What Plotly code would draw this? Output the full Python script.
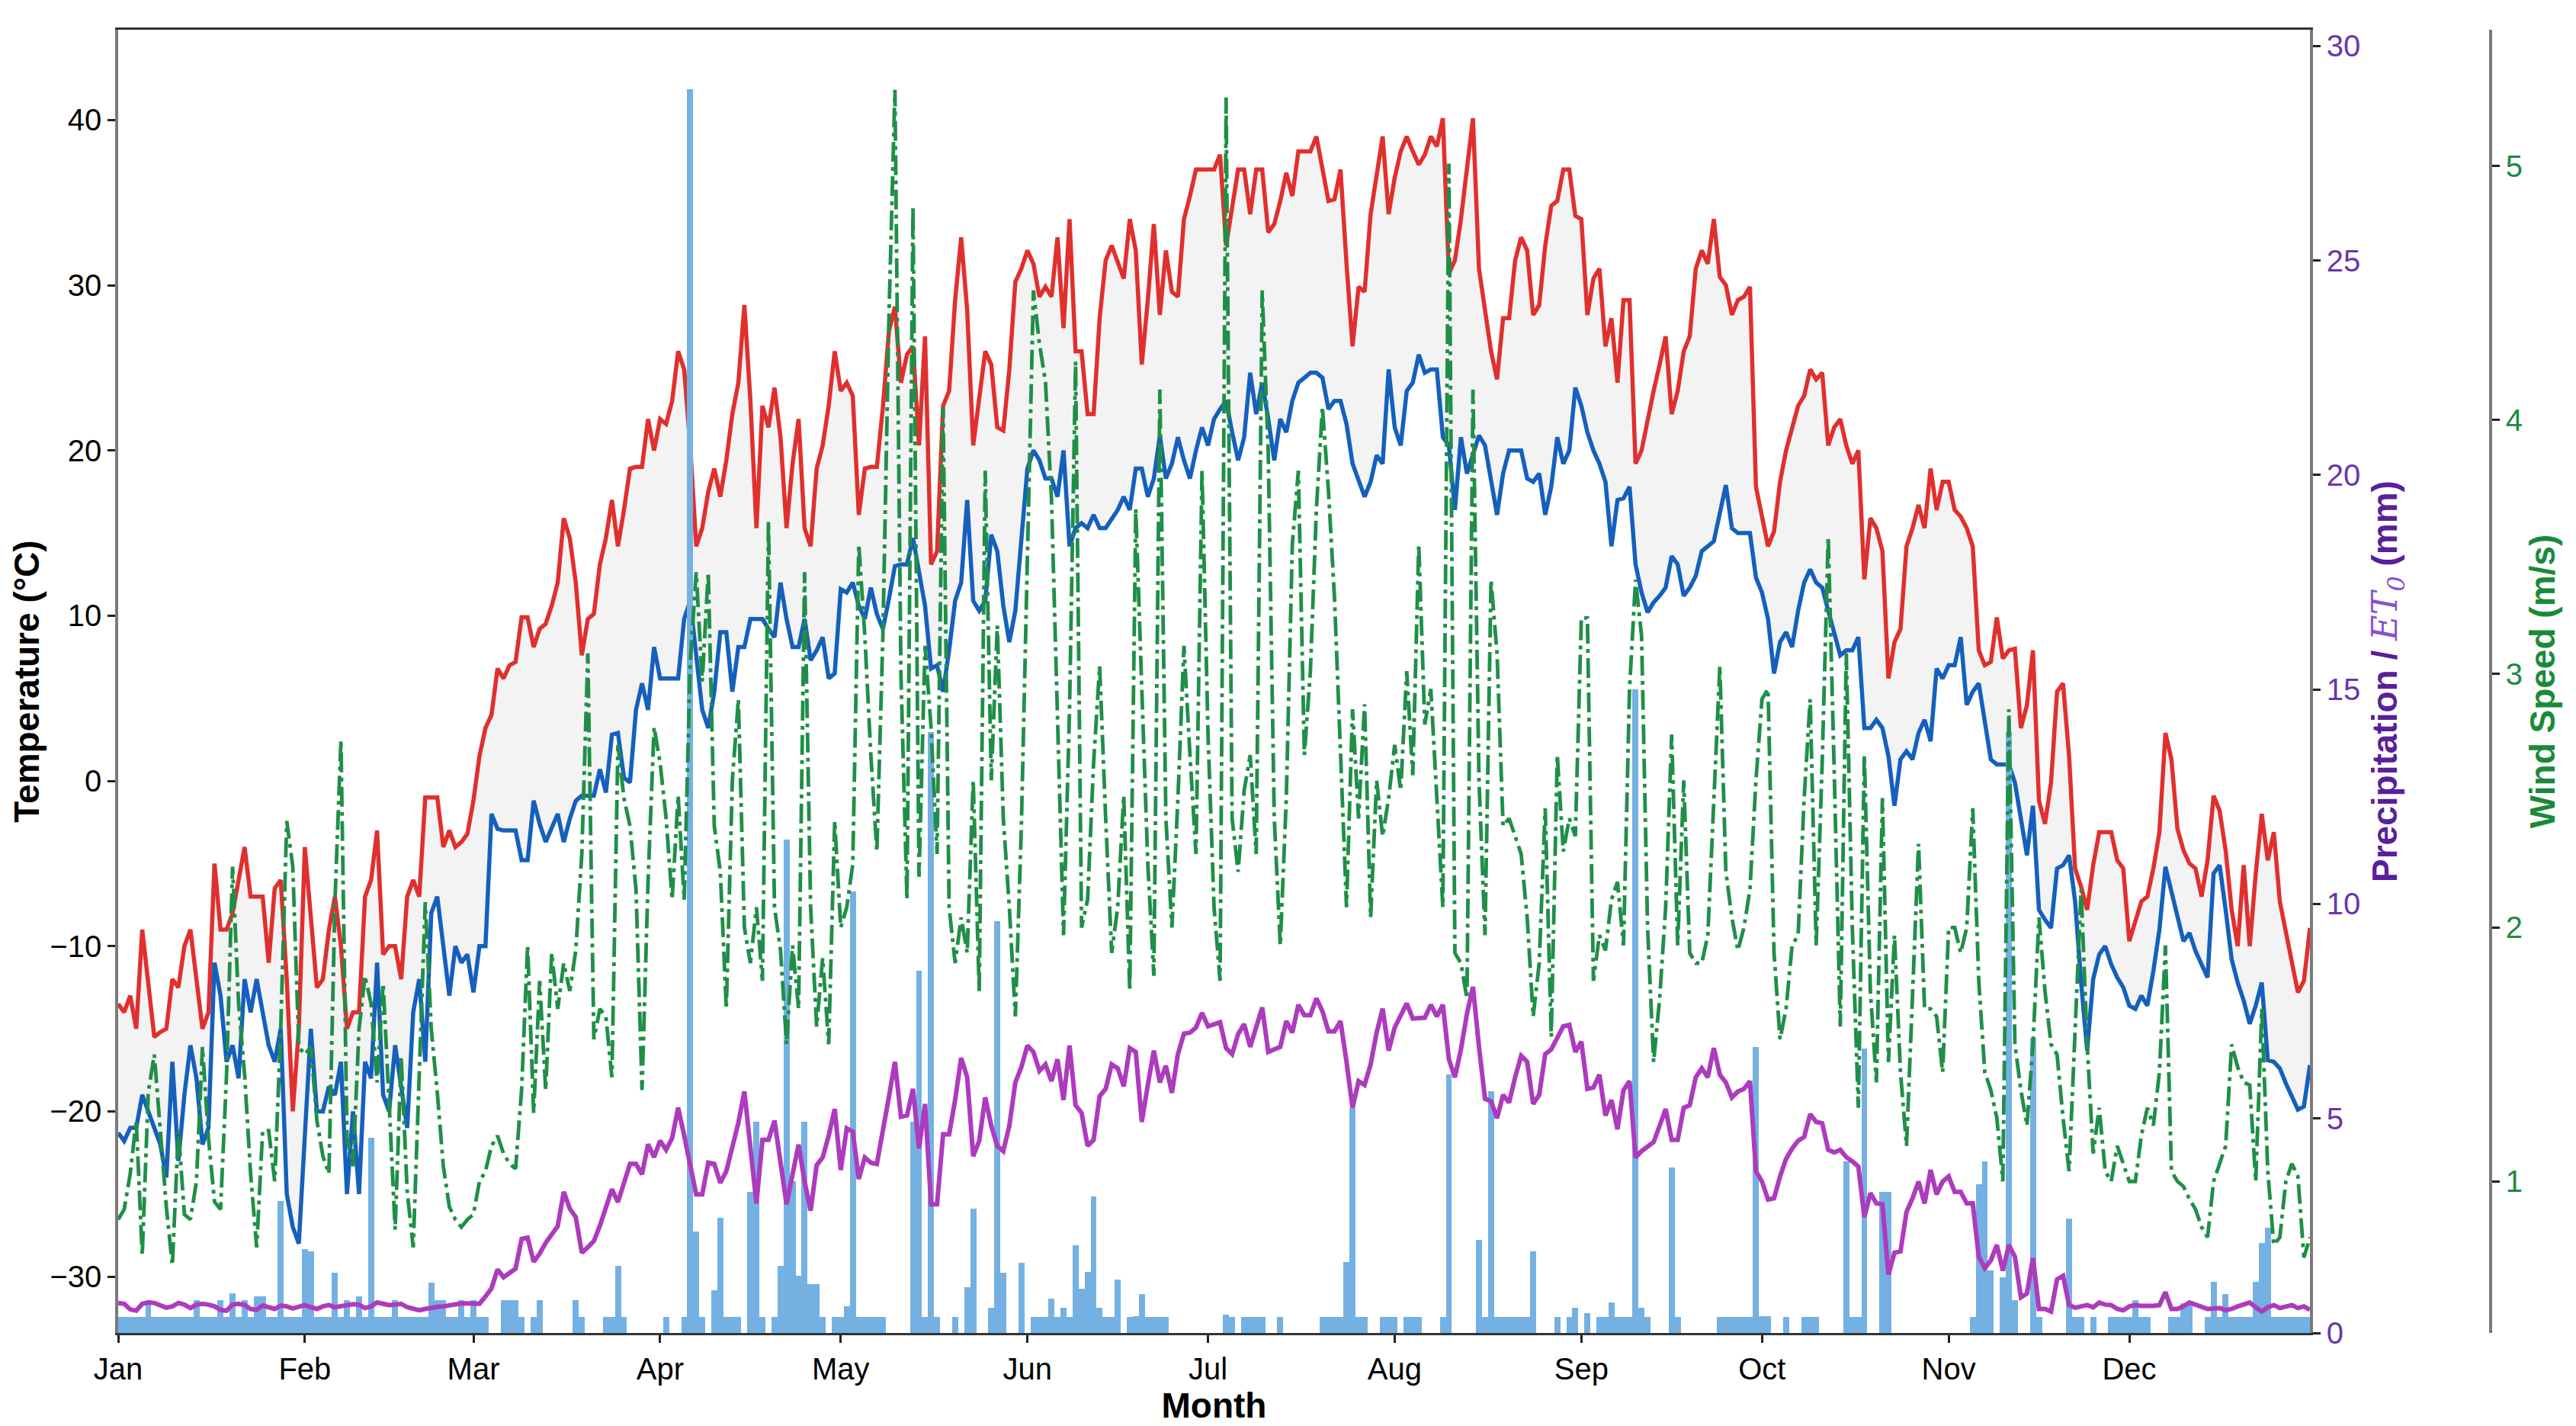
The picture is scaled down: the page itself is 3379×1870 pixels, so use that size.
import plotly.graph_objects as go
import pandas as pd

months = ["Jan", "Feb", "Mar", "Apr", "May", "Jun", "Jul", "Aug", "Sep", "Oct", "Nov", "Dec"]
month_starts = ["2023-01-01", "2023-02-01", "2023-03-01", "2023-04-01", "2023-05-01", "2023-06-01",
                "2023-07-01", "2023-08-01", "2023-09-01", "2023-10-01", "2023-11-01", "2023-12-01"]

# Daily maximum temperature (°C)
tmax = [
    # Jan
    -13.5, -14, -13, -15, -9, -12.5, -15.5, -15.2, -15, -12, -12.5, -10, -9, -12, -15, -14, -5, -9, -9, -8,
    -6, -4, -7, -7, -7, -11, -6.5, -6, -12, -20, -15,
    # Feb
    -4, -8, -12.5, -12, -9, -7, -10, -15, -14, -14, -7, -6, -3, -10.5, -10, -10, -12, -7, -6, -7,
    -1, -1, -1, -4, -3, -4, -3.7, -3.2,
    # Mar
    -1.2, 1.5, 3.2, 4.0, 6.8, 6.2, 7.0, 7.2, 9.9, 9.9, 8.1, 9.2, 9.5, 10.6, 12.0, 15.9, 14.7, 12.0, 7.6, 9.8,
    10.1, 13.1, 14.7, 17.0, 14.2, 16.4, 18.9, 19.0, 19.0, 21.9, 20.0,
    # Apr
    21.9, 21.6, 23.0, 26.0, 24.9, 20.3, 14.2, 15.3, 17.5, 18.9, 17.2, 19.4, 22.2, 24.1, 28.8, 23.0, 15.3, 22.7,
    21.4, 23.8, 20.8, 15.3, 19.2, 21.9, 15.3, 14.2, 18.9, 20.3, 22.7, 26.0,
    # May
    23.6, 24.1, 23.3, 16.1, 18.9, 19.0, 19.0, 22.6, 27.2, 28.7, 24.1, 25.8, 26.3, 20.3, 26.9, 13.1, 13.9, 22.7,
    23.6, 29.1, 32.9, 28.5, 20.3, 23.0, 26.0, 25.2, 21.4, 21.2, 24.9, 30.2, 31.0,
    # Jun
    32.1, 31.3, 29.3, 29.9, 29.3, 32.9, 27.4, 34.0, 26.0, 26.0, 22.2, 22.2, 28.0, 31.5, 32.4, 31.3, 30.4, 34.0,
    32.1, 25.2, 29.1, 33.7, 28.2, 32.1, 29.6, 29.3, 34.0, 35.4, 37.0, 37.0,
    # Jul
    37.0, 37.0, 37.9, 32.4, 34.7, 37.0, 37.0, 34.3, 37.0, 37.0, 33.2, 33.7, 35.1, 36.8, 35.4, 38.1, 38.1, 38.1,
    39.0, 37.0, 35.1, 35.2, 37.0, 31.3, 26.3, 29.9, 29.6, 34.3, 36.5, 39.0, 34.3,
    # Aug
    36.5, 38.1, 39.0, 38.1, 37.3, 37.9, 39.0, 38.4, 40.1, 30.7, 31.5, 34.0, 37.0, 40.1, 31.0, 28.5, 26.0, 24.3,
    28.0, 28.0, 31.5, 32.9, 32.1, 28.2, 28.8, 32.4, 34.8, 35.1, 37.0, 37.0, 34.2,
    # Sep
    34.0, 28.2, 30.4, 31.0, 26.3, 28.0, 24.1, 29.1, 29.1, 19.2, 20.0, 21.9, 23.6, 25.2, 26.9, 22.2, 23.6, 26.0,
    26.9, 31.0, 32.1, 31.3, 34.0, 30.5, 30.0, 28.2, 29.1, 29.3, 29.9, 17.8,
    # Oct
    15.9, 14.2, 15.1, 18.1, 20.0, 21.4, 22.7, 23.3, 24.9, 24.3, 24.7, 20.3, 21.4, 21.9, 20.3, 19.2, 20.0, 12.2,
    15.9, 15.3, 13.9, 6.2, 8.4, 9.2, 14.2, 15.3, 16.7, 15.3, 18.9, 16.4, 18.1,
    # Nov
    18.1, 16.4, 16.0, 15.3, 14.2, 7.9, 7.0, 7.2, 9.9, 7.4, 7.9, 8.0, 3.2, 4.6, 7.9, -1.2, -2.6, -0.1, 5.4, 5.9,
    1.5, -5.3, -6.4, -7.8, -5.1, -3.1, -3.1, -3.1, -4.8, -5.3,
    # Dec
    -9.7, -8.6, -7.3, -7.0, -5.3, -3.1, 2.9, 1.3, -2.9, -4.2, -5.0, -5.3, -7.0, -4.8, -0.9, -1.8, -4.2, -7.8,
    -10.0, -5.1, -10.0, -5.6, -2.0, -4.8, -3.1, -7.3, -9.2, -10.8, -12.8, -12.1, -8.9,
]

# Daily minimum temperature (°C)
tmin = [
    # Jan
    -21.3, -21.8, -21, -21, -19, -20, -21, -22, -24, -17, -23, -19, -16, -18, -22, -21, -11, -13, -17, -16,
    -18, -12, -14, -12, -14, -16, -17, -15, -25, -27, -28,
    # Feb
    -21, -15, -20, -20, -18.5, -19, -17, -25, -20, -25, -17, -18, -11, -19, -20, -16, -18.5, -21, -14, -12,
    -17, -8, -7, -10, -13, -10, -11, -10.5,
    # Mar
    -12.8, -10, -10, -2.0, -2.9, -3.0, -3.0, -3.0, -4.8, -4.8, -1.2, -2.6, -3.7, -2.9, -2.0, -3.7, -2.3, -1.2,
    -0.9, -0.9, -0.9, 0.7, -0.7, 2.8, 2.9, 0.2, -0.1, 4.3, 5.9, 4.3, 8.1,
    # Apr
    6.2, 6.2, 6.2, 6.2, 9.8, 10.9, 7.6, 4.3, 3.2, 5.4, 9.0, 9.0, 5.4, 8.1, 8.1, 9.8, 9.8, 9.8, 9.2, 8.7, 12.0,
    9.8, 8.1, 8.1, 9.8, 7.3, 7.9, 8.7, 6.2, 6.5,
    # May
    11.6, 11.4, 12.0, 10.6, 9.8, 11.7, 10.1, 9.2, 11.0, 13.0, 13.1, 13.1, 14.7, 12.8, 10.6, 6.8, 7.0, 5.4, 7.9,
    10.9, 12.0, 17.0, 10.9, 10.3, 10.9, 14.9, 13.9, 10.6, 8.4, 10.3, 14.7,
    # Jun
    18.9, 20.0, 19.4, 18.3, 18.3, 17.2, 20.0, 14.2, 15.3, 15.6, 15.3, 16.1, 15.3, 15.3, 15.8, 16.4, 17.2, 16.4,
    18.9, 18.9, 17.2, 18.3, 20.9, 18.3, 19.2, 20.8, 19.4, 18.3, 20.0, 21.4,
    # Jul
    20.3, 21.9, 22.5, 23.0, 21.1, 19.4, 20.8, 24.7, 22.2, 24.1, 21.9, 19.4, 21.9, 21.1, 23.0, 24.1, 24.4, 24.7,
    24.7, 24.4, 22.5, 23.0, 23.0, 21.6, 19.2, 18.2, 17.2, 18.1, 19.7, 19.2, 24.9,
    # Aug
    21.4, 20.3, 23.6, 24.1, 25.8, 24.7, 24.9, 24.9, 20.8, 20.3, 16.4, 20.8, 18.6, 19.7, 20.9, 20.3, 18.3, 16.1,
    18.6, 20.0, 20.0, 20.0, 18.3, 18.1, 18.6, 16.1, 17.8, 20.8, 19.2, 20.0, 23.8,
    # Sep
    22.7, 21.1, 20.0, 19.2, 18.1, 14.2, 17.0, 17.1, 17.8, 13.1, 11.4, 10.2, 10.8, 11.2, 11.7, 13.6, 13.1, 11.2,
    11.7, 12.4, 13.9, 14.2, 14.5, 16.2, 17.9, 15.3, 15.0, 15.0, 15.0, 12.3,
    # Oct
    11.4, 9.8, 6.5, 8.4, 9.0, 8.1, 10.3, 12.0, 12.8, 12.0, 11.7, 10.3, 9.0, 7.6, 7.9, 7.9, 8.7, 3.2, 3.2, 3.7,
    3.2, 1.5, -1.5, 1.3, 1.8, 1.3, 2.9, 3.7, 2.4, 6.8, 6.2,
    # Nov
    7.0, 7.0, 8.7, 4.6, 5.4, 5.9, 3.7, 1.3, 1.0, 1.0, 1.0, -0.1, -2.3, -4.5, -1.5, -7.8, -8.4, -8.9, -5.3, -5.1,
    -4.5, -7.3, -12.2, -16.3, -12.0, -10.5, -10.0, -11.1, -11.9, -12.5,
    # Dec
    -13.6, -13.8, -13.0, -13.6, -11.5, -9.0, -5.2, -6.7, -8.4, -9.7, -9.2, -10.3, -11.1, -11.9, -5.6, -5.1, -7.8,
    -10.8, -12.2, -13.3, -14.7, -13.6, -12.2, -16.9, -17.0, -17.4, -18.3, -19.1, -19.9, -19.7, -17.2,
]

# Daily precipitation (mm)
precip = [
    # Jan
    0.37, 0.37, 0.37, 0.37, 0.37, 0.77, 0.37, 0.37, 0.37, 0.37, 0.37, 0.37, 0.37, 0.77, 0.37, 0.37, 0.37, 0.77,
    0.37, 0.92, 0.37, 0.77, 0.37, 0.86, 0.86, 0.37, 0.37, 3.08, 0.37, 0.37, 0.37,
    # Feb
    1.96, 1.9, 0.37, 0.37, 0.37, 1.41, 0.37, 0.77, 0.37, 0.86, 0.37, 4.55, 0.37, 0.37, 0.37, 0.77, 0.37, 0.37,
    0.37, 0.37, 0.37, 1.17, 0.77, 0.77, 0.37, 0.37, 0.77, 0.37,
    # Mar
    0.77, 0.37, 0.37, 0, 0, 0.77, 0.77, 0.77, 0.37, 0, 0.37, 0.77, 0, 0, 0, 0, 0, 0.77, 0.37, 0, 0, 0, 0.37,
    0.37, 1.56, 0.37, 0, 0, 0, 0, 0,
    # Apr
    0, 0.37, 0, 0, 0.37, 29.0, 2.36, 0.37, 0, 0.99, 2.69, 0.37, 0.37, 0.37, 0, 3.29, 4.93, 0.37, 0, 0.37, 1.56,
    11.5, 3.53, 1.33, 4.93, 1.13, 1.13, 0.37, 0, 0.37,
    # May
    0.37, 0.62, 10.3, 0.37, 0.37, 0.37, 0.37, 0.37, 0, 0, 0, 0, 4.93, 8.44, 0.37, 14.0, 0.37, 0, 0, 0.37, 0,
    1.07, 2.89, 0, 0, 0.58, 9.6, 1.41, 0, 0, 1.64,
    # Jun
    0, 0.37, 0.37, 0.37, 0.8, 0.37, 0.58, 0.37, 2.05, 1.04, 1.42, 3.18, 0.58, 0.37, 0.37, 1.25, 0, 0.37, 0.4,
    0.91, 0.37, 0.37, 0.37, 0.37, 0, 0, 0, 0, 0, 0,
    # Jul
    0, 0, 0, 0.42, 0.37, 0, 0.37, 0.37, 0.37, 0.37, 0, 0, 0.37, 0, 0, 0, 0, 0, 0, 0.37, 0.37, 0.37, 0.37, 1.66,
    5.25, 0.37, 0.37, 0, 0, 0.37, 0.37,
    # Aug
    0.37, 0, 0.37, 0.37, 0.37, 0, 0, 0, 0.37, 6.02, 0, 0, 0, 0, 2.16, 0.37, 5.63, 0.37, 0.37, 0.37, 0.37, 0.37,
    0.37, 1.9, 0, 0, 0, 0.37, 0, 0.37, 0.58,
    # Sep
    0, 0.46, 0, 0.37, 0.37, 0.71, 0.37, 0.37, 0.37, 15.0, 0.59, 0.37, 0, 0, 0, 3.85, 0.37, 0, 0, 0, 0, 0, 0,
    0.37, 0.37, 0.37, 0.37, 0.37, 0.37, 6.67,
    # Oct
    0.4, 0.4, 0, 0, 0.37, 0, 0, 0.37, 0.37, 0.37, 0, 0, 0, 0, 4.0, 0.37, 0.37, 6.63, 0, 0, 3.29, 3.29, 0, 0, 0,
    0, 0, 0, 0, 0, 0,
    # Nov
    0, 0, 0, 0, 0.37, 3.46, 4.0, 1.45, 0, 1.3, 14.0, 0.77, 0, 0, 6.88, 0.37, 0, 0, 0, 0, 2.67, 0.37, 0.37, 0,
    0.37, 0, 0, 0.37, 0.37, 0.37,
    # Dec
    0.37, 0.77, 0.37, 0.37, 0, 0, 0, 0.37, 0.37, 0.7, 0.7, 0, 0, 0.37, 1.2, 0.37, 0.9, 0.37, 0.37, 0.37, 0.37,
    1.2, 2.1, 2.45, 0.37, 0.37, 0.37, 0.37, 0.37, 0.37, 0.37,
]

# Daily reference evapotranspiration ET0 (mm)
et0 = [
    # Jan
    0.70, 0.68, 0.55, 0.52, 0.68, 0.71, 0.70, 0.64, 0.59, 0.62, 0.70, 0.66, 0.58, 0.66, 0.68, 0.66, 0.62, 0.54,
    0.52, 0.66, 0.68, 0.65, 0.56, 0.54, 0.64, 0.60, 0.56, 0.64, 0.62, 0.57, 0.60,
    # Feb
    0.65, 0.60, 0.56, 0.62, 0.65, 0.60, 0.62, 0.65, 0.67, 0.66, 0.58, 0.62, 0.71, 0.68, 0.65, 0.66, 0.68, 0.60,
    0.56, 0.53, 0.56, 0.59, 0.61, 0.62, 0.65, 0.67, 0.69, 0.69,
    # Mar
    0.69, 0.68, 0.85, 1.04, 1.48, 1.3, 1.4, 1.5, 2.19, 2.22, 1.66, 1.85, 2.1, 2.31, 2.49, 3.29, 2.9, 2.7, 1.87,
    2.0, 2.14, 2.5, 2.9, 3.35, 3.05, 3.5, 3.94, 3.94, 3.7, 4.4, 4.1,
    # Apr
    4.48, 4.27, 4.54, 5.25, 4.6, 3.9, 3.23, 3.23, 3.97, 3.94, 3.5, 3.77, 4.3, 4.9, 5.63, 4.36, 3.02, 4.5, 4.5,
    4.95, 3.88, 3.0, 3.7, 4.39, 3.53, 2.85, 3.91, 4.09, 4.6, 5.22,
    # May
    3.8, 4.77, 4.69, 3.59, 4.09, 3.97, 3.94, 4.8, 5.5, 6.32, 5.04, 5.07, 5.69, 4.3, 5.34, 3.0, 3.0, 4.63, 4.63,
    5.43, 6.41, 5.96, 4.12, 4.48, 5.49, 4.83, 4.36, 4.24, 4.83, 5.84, 6.2,
    # Jun
    6.7, 6.55, 6.11, 6.26, 5.87, 6.38, 5.43, 6.7, 5.31, 5.13, 4.36, 4.5, 5.52, 5.69, 6.26, 6.17, 5.75, 6.64,
    6.55, 4.92, 5.78, 6.58, 5.84, 6.23, 5.6, 6.5, 6.98, 7.0, 7.12, 7.46,
    # Jul
    7.15, 7.2, 7.24, 6.64, 6.5, 6.97, 7.2, 6.67, 7.15, 7.59, 6.55, 6.6, 6.67, 7.27, 7.0, 7.65, 7.41, 7.41, 7.8,
    7.5, 7.03, 7.03, 7.27, 6.32, 5.25, 5.87, 5.78, 6.26, 7.0, 7.56, 6.58,
    # Aug
    7.12, 7.4, 7.68, 7.33, 7.34, 7.35, 7.65, 7.38, 7.65, 6.38, 5.96, 6.61, 7.44, 8.07, 6.67, 5.46, 5.4, 5.01,
    5.55, 5.37, 5.96, 6.46, 6.32, 5.34, 5.55, 6.5, 6.61, 6.9, 7.15, 7.18, 6.55,
    # Sep
    6.79, 5.69, 5.72, 6.02, 5.07, 5.43, 4.75, 5.66, 5.87, 4.09, 4.24, 4.35, 4.45, 4.83, 5.22, 4.5, 4.5, 5.25,
    5.31, 5.96, 6.17, 5.96, 6.64, 6.02, 5.84, 5.49, 5.63, 5.69, 5.87, 3.77,
    # Oct
    3.53, 3.11, 3.14, 3.65, 4.06, 4.3, 4.48, 4.57, 5.1, 4.92, 4.89, 4.27, 4.21, 4.27, 4.1, 4.0, 3.88, 2.7, 3.26,
    3.02, 3.0, 1.36, 1.87, 1.9, 2.82, 3.14, 3.53, 3.02, 3.8, 3.23, 3.53,
    # Nov
    3.65, 3.29, 3.29, 3.02, 3.02, 1.78, 1.51, 1.69, 2.05, 1.45, 2.05, 1.78, 0.83, 0.92, 1.75, 0.56, 0.56, 0.5,
    1.25, 1.33, 0.65, 0.59, 0.62, 0.65, 0.6, 0.71, 0.66, 0.65, 0.56, 0.53,
    # Dec
    0.62, 0.65, 0.63, 0.62, 0.63, 0.65, 0.95, 0.56, 0.56, 0.62, 0.71, 0.66, 0.6, 0.56, 0.57, 0.58, 0.53, 0.56,
    0.62, 0.66, 0.71, 0.6, 0.5, 0.6, 0.65, 0.58, 0.62, 0.65, 0.58, 0.62, 0.54,
]

# Daily mean wind speed (m/s)
wind = [
    # Jan
    0.85, 0.89, 1.03, 1.24, 0.71, 1.35, 1.5, 1.2, 0.9, 0.67, 1.2, 0.87, 0.85, 1.0, 1.53, 1.17, 0.92, 0.89, 1.42,
    2.24, 1.7, 1.42, 1.03, 0.74, 1.2, 1.2, 1.0, 1.6, 2.42, 2.24, 1.53,
    # Feb
    1.5, 1.53, 1.24, 1.1, 1.03, 2.1, 2.74, 1.17, 1.06, 1.6, 1.81, 1.7, 1.39, 1.78, 1.31, 0.81, 1.49, 0.96, 0.74,
    1.42, 2.1, 1.6, 1.35, 1.06, 0.9, 0.85, 0.82, 0.85,
    # Mar
    0.87, 1.0, 1.04, 1.14, 1.18, 1.11, 1.07, 1.05, 1.36, 1.93, 1.27, 1.79, 1.36, 1.9, 1.68, 1.86, 1.75, 1.91,
    2.29, 3.08, 1.56, 1.68, 1.65, 1.41, 2.72, 2.51, 2.4, 2.15, 1.36, 2.18, 2.79,
    # Apr
    2.65, 2.43, 2.11, 2.52, 2.11, 3.04, 3.4, 2.97, 3.4, 2.4, 2.22, 1.68, 2.58, 2.9, 2.0, 1.86, 2.08, 1.79, 3.6,
    2.08, 1.91, 1.54, 1.93, 1.68, 3.4, 2.08, 1.61, 1.88, 1.54, 2.42,
    # May
    2.0, 2.08, 2.25, 3.51, 3.15, 2.68, 2.3, 3.15, 4.4, 5.3, 3.0, 2.11, 4.84, 2.2, 3.11, 2.79, 2.29, 4.05, 2.08,
    1.86, 2.04, 1.9, 2.58, 1.75, 3.8, 2.58, 3.19, 2.43, 2.08, 1.65, 2.4,
    # Jun
    3.51, 4.51, 4.3, 4.15, 3.69, 2.79, 1.97, 2.86, 4.23, 2.0, 2.11, 2.65, 3.03, 2.43, 1.9, 2.08, 2.52, 1.75,
    3.65, 2.94, 2.25, 1.81, 4.12, 2.43, 2.0, 2.51, 3.11, 2.68, 2.29, 3.8,
    # Jul
    2.76, 2.08, 1.79, 5.27, 2.43, 2.22, 2.54, 2.68, 2.29, 4.51, 3.87, 2.43, 1.93, 2.51, 3.51, 3.8, 2.68, 3.01,
    3.65, 4.05, 3.72, 3.3, 2.7, 2.08, 2.86, 2.43, 2.88, 2.04, 2.58, 2.36, 2.51,
    # Aug
    2.72, 2.54, 3.01, 2.6, 3.51, 2.8, 2.94, 2.51, 2.08, 5.01, 1.9, 1.86, 1.72, 4.12, 2.58, 1.97, 3.37, 3.08,
    2.4, 2.43, 2.36, 2.29, 2.04, 1.65, 1.86, 2.47, 1.57, 2.68, 2.3, 2.43, 2.36,
    # Sep
    3.22, 3.22, 1.79, 1.97, 1.91, 2.11, 2.18, 1.93, 2.94, 3.37, 3.15, 2.0, 1.47, 1.72, 2.08, 2.76, 1.93, 2.58,
    1.9, 1.86, 1.86, 1.97, 2.54, 3.03, 2.22, 2.04, 1.91, 2.0, 2.15, 2.58,
    # Oct
    2.9, 2.94, 1.9, 1.56, 1.68, 1.93, 1.97, 2.51, 2.9, 1.93, 2.65, 3.54, 2.61, 1.61, 3.08, 2.0, 1.29, 2.68, 1.75,
    1.39, 2.51, 1.47, 1.97, 1.43, 1.14, 1.72, 2.33, 1.68, 1.68, 1.65, 1.43,
    # Nov
    2.0, 2.0, 1.9, 2.0, 2.47, 1.79, 1.43, 1.36, 1.25, 1.0, 2.86, 1.54, 1.36, 1.22, 1.54, 2.04, 1.75, 1.54, 1.5,
    1.25, 1.04, 1.61, 2.15, 1.54, 1.11, 1.29, 1.04, 1.0, 1.14, 1.07,
    # Dec
    1.0, 1.0, 1.18, 1.29, 1.22, 1.43, 1.93, 1.04, 1.0, 0.98, 0.93, 0.89, 0.82, 0.78, 1.0, 1.07, 1.14, 1.54, 1.45,
    1.39, 1.38, 1.0, 1.68, 1.04, 0.75, 0.78, 1.0, 1.07, 1.02, 0.7, 0.78,
]

dates = pd.date_range("2023-01-01", periods=len(tmax), freq="D")

RED = "#e0302e"
BLUE = "#1560bd"
PURPLE = "#ad3bbd"
GREEN = "#1f8f47"
BARC = "#74b1e2"
FONT = "Liberation Sans, Arial, Helvetica, sans-serif"

fig = go.Figure()
# shaded band between Tmin and Tmax
fig.add_trace(go.Scatter(x=dates, y=tmin, mode="lines", line=dict(width=0, color="rgba(0,0,0,0)"),
                         showlegend=False, hoverinfo="skip"))
fig.add_trace(go.Scatter(x=dates, y=tmax, mode="lines", line=dict(width=0, color="rgba(0,0,0,0)"),
                         fill="tonexty", fillcolor="#f3f3f3", showlegend=False, hoverinfo="skip"))
fig.add_trace(go.Scatter(x=dates, y=tmax, mode="lines", name="Tmax",
                         line=dict(color=RED, width=5.5)))
fig.add_trace(go.Scatter(x=dates, y=tmin, mode="lines", name="Tmin",
                         line=dict(color=BLUE, width=5.5)))
# precipitation and ET0
fig.add_trace(go.Bar(x=dates, y=precip, yaxis="y2", name="Precipitation",
                     marker=dict(color=BARC, line=dict(width=0)), width=86400000))
fig.add_trace(go.Scatter(x=dates, y=et0, yaxis="y2", mode="lines", name="ET0",
                         line=dict(color=PURPLE, width=6)))
# wind
fig.add_trace(go.Scatter(x=dates, y=wind, yaxis="y3", mode="lines", name="Wind",
                         line=dict(color=GREEN, width=4.8, dash="26px,7px,5px,7px")))

W, H = 3379, 1870
ml, mr, mt, mb = 155, 112, 39, 122
x_end = (3030 - ml) / (W - ml - mr)

fig.update_layout(
    width=W, height=H, autosize=False,
    margin=dict(l=ml, r=mr, t=mt, b=mb, pad=0),
    template="none",
    paper_bgcolor="white", plot_bgcolor="white",
    showlegend=False,
    font=dict(family=FONT, size=40, color="black"),
    bargap=0,
    xaxis=dict(
        domain=[0, x_end],
        range=["2023-01-01", "2023-12-31"],
        tickvals=month_starts, ticktext=months,
        ticks="outside", ticklen=10, tickwidth=2.5, tickcolor="#222",
        showline=True, linecolor="#333", linewidth=2.5, mirror=True,
        showgrid=False, zeroline=False,
        tickfont=dict(size=40, color="black"),
        title=dict(text="Month", font=dict(size=46, color="black", weight="bold"), standoff=6),
    ),
    yaxis=dict(
        range=[-33.41, 45.46],
        tickvals=[-30, -20, -10, 0, 10, 20, 30, 40],
        ticks="outside", ticklen=10, tickwidth=2.5, tickcolor="#222",
        showline=True, linecolor="#7a7a7a", linewidth=3.5,
        showgrid=False, zeroline=False,
        tickfont=dict(size=40, color="black"),
        title=dict(text="Temperature (°C)", font=dict(size=46, color="black", weight="bold"), standoff=0),
    ),
    yaxis2=dict(
        overlaying="y", side="right", anchor="x",
        range=[0, 30.38],
        tickvals=[0, 5, 10, 15, 20, 25, 30],
        ticks="outside", ticklen=10, tickwidth=2.5, tickcolor="#222",
        showline=True, linecolor="#7a7a7a", linewidth=3.5,
        showgrid=False, zeroline=False,
        tickfont=dict(size=40, color="#6b35ad"),
        title=dict(
            text="Precipitation / <span style=\"font-family:'DejaVu Serif';font-style:italic;"
                 "font-weight:normal;color:#8a4fd0\">ET<sub>0</sub></span> (mm)",
            font=dict(size=46, color="#5a1f9a", weight="bold"), standoff=18),
    ),
    yaxis3=dict(
        overlaying="y", side="right", anchor="free", position=1.0,
        range=[0.403, 5.537],
        tickvals=[1, 2, 3, 4, 5],
        ticks="outside", ticklen=10, tickwidth=2.5, tickcolor="#222",
        showline=True, linecolor="#7a7a7a", linewidth=3.5,
        showgrid=False, zeroline=False,
        tickfont=dict(size=40, color="#1e8a3e"),
        title=dict(text="Wind Speed (m/s)", font=dict(size=46, color="#1a8a3a", weight="bold"), standoff=6),
    ),
)

fig.write_html("out.html")
